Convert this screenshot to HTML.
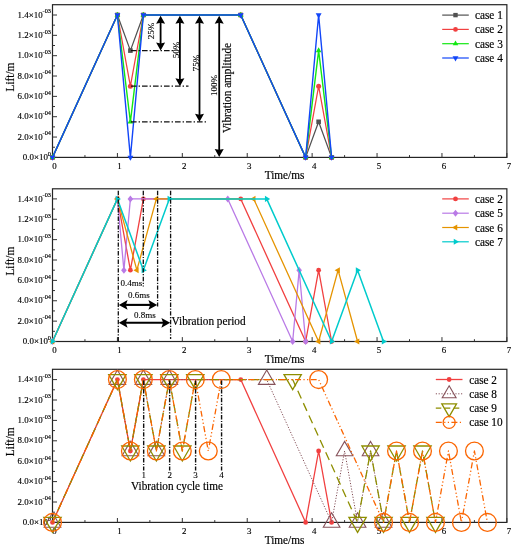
<!DOCTYPE html>
<html><head><meta charset="utf-8"><title>Lift curves</title>
<style>
html,body{margin:0;padding:0;background:#fff}
svg{display:block}
text{font-family:"Liberation Serif",serif;fill:#000;stroke:#000;stroke-width:0.1px}
.tk{font-size:8.9px;stroke-width:0.15px}
.sup{font-size:6.3px}
.ax{font-size:11.8px;stroke-width:0.18px}
.lg{font-size:11.8px;stroke-width:0.18px}
.an{font-size:9px}
</style></head><body>
<svg width="517" height="550" viewBox="0 0 517 550">
<rect width="517" height="550" fill="#fff"/>
<rect x="52.5" y="4.7" width="454.37" height="152.7" fill="none" stroke="#242424" stroke-width="1.2"/>
<path d="M52.5 157.4h4.5M52.5 147.23h2.5M52.5 137.06h4.5M52.5 126.89h2.5M52.5 116.71h4.5M52.5 106.54h2.5M52.5 96.37h4.5M52.5 86.2h2.5M52.5 76.03h4.5M52.5 65.86h2.5M52.5 55.69h4.5M52.5 45.51h2.5M52.5 35.34h4.5M52.5 25.17h2.5M52.5 15h4.5M52.5 157.4v-4.4M84.95 157.4v-2.3M117.41 157.4v-4.4M149.87 157.4v-2.3M182.32 157.4v-4.4M214.77 157.4v-2.3M247.23 157.4v-4.4M279.69 157.4v-2.3M312.14 157.4v-4.4M344.59 157.4v-2.3M377.05 157.4v-4.4M409.5 157.4v-2.3M441.96 157.4v-4.4M474.41 157.4v-2.3M506.87 157.4v-4.4" stroke="#333" stroke-width="1" fill="none"/>
<text x="51" y="160" text-anchor="end" class="tk">0.0×10<tspan class="sup" dy="-4.3">0</tspan></text>
<text x="51" y="139.66" text-anchor="end" class="tk">2.0×10<tspan class="sup" dy="-4.3">-04</tspan></text>
<text x="51" y="119.31" text-anchor="end" class="tk">4.0×10<tspan class="sup" dy="-4.3">-04</tspan></text>
<text x="51" y="98.97" text-anchor="end" class="tk">6.0×10<tspan class="sup" dy="-4.3">-04</tspan></text>
<text x="51" y="78.63" text-anchor="end" class="tk">8.0×10<tspan class="sup" dy="-4.3">-04</tspan></text>
<text x="51" y="58.29" text-anchor="end" class="tk">1.0×10<tspan class="sup" dy="-4.3">-03</tspan></text>
<text x="51" y="37.94" text-anchor="end" class="tk">1.2×10<tspan class="sup" dy="-4.3">-03</tspan></text>
<text x="51" y="17.6" text-anchor="end" class="tk">1.4×10<tspan class="sup" dy="-4.3">-03</tspan></text>
<text x="54.5" y="169.1" text-anchor="middle" class="tk">0</text>
<text x="119.41" y="169.1" text-anchor="middle" class="tk">1</text>
<text x="184.32" y="169.1" text-anchor="middle" class="tk">2</text>
<text x="249.23" y="169.1" text-anchor="middle" class="tk">3</text>
<text x="314.14" y="169.1" text-anchor="middle" class="tk">4</text>
<text x="379.05" y="169.1" text-anchor="middle" class="tk">5</text>
<text x="443.96" y="169.1" text-anchor="middle" class="tk">6</text>
<text x="508.87" y="169.1" text-anchor="middle" class="tk">7</text>
<text transform="translate(14.3 77.05) rotate(-90) scale(0.955 1)" text-anchor="middle" class="ax">Lift/m</text>
<text transform="translate(284.5 178.8) scale(0.955 1)" text-anchor="middle" class="ax">Time/ms</text>
<polyline points="52.5,157.4 117.41,15 130.39,50.6 143.37,15 240.74,15 305.65,157.4 318.63,121.8 331.61,157.4" fill="none" stroke="#515151" stroke-width="1.25" stroke-linejoin="round"/>
<rect x="50.2" y="155.1" width="4.6" height="4.6" fill="#515151"/>
<rect x="115.11" y="12.7" width="4.6" height="4.6" fill="#515151"/>
<rect x="128.09" y="48.3" width="4.6" height="4.6" fill="#515151"/>
<rect x="141.07" y="12.7" width="4.6" height="4.6" fill="#515151"/>
<rect x="238.44" y="12.7" width="4.6" height="4.6" fill="#515151"/>
<rect x="303.35" y="155.1" width="4.6" height="4.6" fill="#515151"/>
<rect x="316.33" y="119.5" width="4.6" height="4.6" fill="#515151"/>
<rect x="329.31" y="155.1" width="4.6" height="4.6" fill="#515151"/>
<polyline points="52.5,157.4 117.41,15 130.39,86.2 143.37,15 240.74,15 305.65,157.4 318.63,86.2 331.61,157.4" fill="none" stroke="#F14040" stroke-width="1.25" stroke-linejoin="round"/>
<circle cx="52.5" cy="157.4" r="2.5" fill="#F14040"/>
<circle cx="117.41" cy="15" r="2.5" fill="#F14040"/>
<circle cx="130.39" cy="86.2" r="2.5" fill="#F14040"/>
<circle cx="143.37" cy="15" r="2.5" fill="#F14040"/>
<circle cx="240.74" cy="15" r="2.5" fill="#F14040"/>
<circle cx="305.65" cy="157.4" r="2.5" fill="#F14040"/>
<circle cx="318.63" cy="86.2" r="2.5" fill="#F14040"/>
<circle cx="331.61" cy="157.4" r="2.5" fill="#F14040"/>
<polyline points="52.5,157.4 117.41,15 130.39,121.8 143.37,15 240.74,15 305.65,157.4 318.63,50.6 331.61,157.4" fill="none" stroke="#12E812" stroke-width="1.4" stroke-linejoin="round"/>
<polygon points="52.5,154.1 55.36,159.05 49.64,159.05" fill="#12E812"/>
<polygon points="117.41,11.7 120.27,16.65 114.55,16.65" fill="#12E812"/>
<polygon points="130.39,118.5 133.25,123.45 127.53,123.45" fill="#12E812"/>
<polygon points="143.37,11.7 146.23,16.65 140.52,16.65" fill="#12E812"/>
<polygon points="240.74,11.7 243.6,16.65 237.88,16.65" fill="#12E812"/>
<polygon points="305.65,154.1 308.51,159.05 302.79,159.05" fill="#12E812"/>
<polygon points="318.63,47.3 321.49,52.25 315.77,52.25" fill="#12E812"/>
<polygon points="331.61,154.1 334.47,159.05 328.76,159.05" fill="#12E812"/>
<polyline points="52.5,157.4 117.41,15 130.39,157.4 143.37,15 240.74,15 305.65,157.4 318.63,15 331.61,157.4" fill="none" stroke="#1246F8" stroke-width="1.4" stroke-linejoin="round"/>
<polygon points="52.5,160.8 49.56,155.7 55.44,155.7" fill="#1246F8"/>
<polygon points="117.41,18.4 114.47,13.3 120.35,13.3" fill="#1246F8"/>
<polygon points="130.39,160.8 127.45,155.7 133.34,155.7" fill="#1246F8"/>
<polygon points="143.37,18.4 140.43,13.3 146.32,13.3" fill="#1246F8"/>
<polygon points="240.74,18.4 237.79,13.3 243.68,13.3" fill="#1246F8"/>
<polygon points="305.65,160.8 302.7,155.7 308.59,155.7" fill="#1246F8"/>
<polygon points="318.63,18.4 315.69,13.3 321.58,13.3" fill="#1246F8"/>
<polygon points="331.61,160.8 328.67,155.7 334.56,155.7" fill="#1246F8"/>
<line x1="442.2" y1="15.1" x2="468.8" y2="15.1" stroke="#515151" stroke-width="1.2"/>
<rect x="453.3" y="12.9" width="4.4" height="4.4" fill="#515151"/>
<text transform="translate(475 19.1) scale(0.955 1)" class="lg">case 1</text>
<line x1="442.2" y1="29.4" x2="468.8" y2="29.4" stroke="#F14040" stroke-width="1.2"/>
<circle cx="455.5" cy="29.4" r="2.4" fill="#F14040"/>
<text transform="translate(475 33.4) scale(0.955 1)" class="lg">case 2</text>
<line x1="442.2" y1="43.7" x2="468.8" y2="43.7" stroke="#12E812" stroke-width="1.2"/>
<polygon points="455.5,40.5 458.27,45.3 452.73,45.3" fill="#12E812"/>
<text transform="translate(475 47.7) scale(0.955 1)" class="lg">case 3</text>
<line x1="442.2" y1="58" x2="468.8" y2="58" stroke="#1246F8" stroke-width="1.2"/>
<polygon points="455.5,61.4 452.56,56.3 458.44,56.3" fill="#1246F8"/>
<text transform="translate(475 62) scale(0.955 1)" class="lg">case 4</text>
<line x1="131" y1="50.6" x2="173.5" y2="50.6" stroke="#111" stroke-width="1.3" stroke-dasharray="5.6 2 1.4 2"/>
<line x1="131" y1="86.2" x2="188.5" y2="86.2" stroke="#111" stroke-width="1.3" stroke-dasharray="5.6 2 1.4 2"/>
<line x1="131" y1="121.8" x2="208" y2="121.8" stroke="#111" stroke-width="1.3" stroke-dasharray="5.6 2 1.4 2"/>
<line x1="160.6" y1="20.6" x2="160.6" y2="45.8" stroke="#000" stroke-width="1.8"/><polygon points="160.6,15.8 165.1,23.8 160.6,22.84 156.1,23.8" fill="#000"/><polygon points="160.6,50.6 165.1,42.6 160.6,43.56 156.1,42.6" fill="#000"/>
<line x1="179.9" y1="20.6" x2="179.9" y2="81.4" stroke="#000" stroke-width="1.8"/><polygon points="179.9,15.8 184.4,23.8 179.9,22.84 175.4,23.8" fill="#000"/><polygon points="179.9,86.2 184.4,78.2 179.9,79.16 175.4,78.2" fill="#000"/>
<line x1="199.5" y1="20.6" x2="199.5" y2="117" stroke="#000" stroke-width="1.8"/><polygon points="199.5,15.8 204,23.8 199.5,22.84 195,23.8" fill="#000"/><polygon points="199.5,121.8 204,113.8 199.5,114.76 195,113.8" fill="#000"/>
<line x1="219.2" y1="20.6" x2="219.2" y2="152.1" stroke="#000" stroke-width="1.8"/><polygon points="219.2,15.8 223.7,23.8 219.2,22.84 214.7,23.8" fill="#000"/><polygon points="219.2,156.9 223.7,148.9 219.2,149.86 214.7,148.9" fill="#000"/>
<text transform="translate(154 31) rotate(-90)" text-anchor="middle" class="an">25%</text>
<text transform="translate(179 50) rotate(-90)" text-anchor="middle" class="an">50%</text>
<text transform="translate(198.5 63) rotate(-90)" text-anchor="middle" class="an">75%</text>
<text transform="translate(217.2 85.5) rotate(-90)" text-anchor="middle" class="an">100%</text>
<text transform="translate(231 88) rotate(-90) scale(0.955 1)" text-anchor="middle" class="ax">Vibration amplitude</text>
<rect x="52.5" y="188.8" width="454.37" height="152.7" fill="none" stroke="#242424" stroke-width="1.2"/>
<path d="M52.5 341.5h4.5M52.5 331.31h2.5M52.5 321.13h4.5M52.5 310.94h2.5M52.5 300.76h4.5M52.5 290.57h2.5M52.5 280.39h4.5M52.5 270.2h2.5M52.5 260.01h4.5M52.5 249.83h2.5M52.5 239.64h4.5M52.5 229.46h2.5M52.5 219.27h4.5M52.5 209.09h2.5M52.5 198.9h4.5M52.5 341.5v-4.4M84.95 341.5v-2.3M117.41 341.5v-4.4M149.87 341.5v-2.3M182.32 341.5v-4.4M214.77 341.5v-2.3M247.23 341.5v-4.4M279.69 341.5v-2.3M312.14 341.5v-4.4M344.59 341.5v-2.3M377.05 341.5v-4.4M409.5 341.5v-2.3M441.96 341.5v-4.4M474.41 341.5v-2.3M506.87 341.5v-4.4" stroke="#333" stroke-width="1" fill="none"/>
<text x="51" y="344.1" text-anchor="end" class="tk">0.0×10<tspan class="sup" dy="-4.3">0</tspan></text>
<text x="51" y="323.73" text-anchor="end" class="tk">2.0×10<tspan class="sup" dy="-4.3">-04</tspan></text>
<text x="51" y="303.36" text-anchor="end" class="tk">4.0×10<tspan class="sup" dy="-4.3">-04</tspan></text>
<text x="51" y="282.99" text-anchor="end" class="tk">6.0×10<tspan class="sup" dy="-4.3">-04</tspan></text>
<text x="51" y="262.61" text-anchor="end" class="tk">8.0×10<tspan class="sup" dy="-4.3">-04</tspan></text>
<text x="51" y="242.24" text-anchor="end" class="tk">1.0×10<tspan class="sup" dy="-4.3">-03</tspan></text>
<text x="51" y="221.87" text-anchor="end" class="tk">1.2×10<tspan class="sup" dy="-4.3">-03</tspan></text>
<text x="51" y="201.5" text-anchor="end" class="tk">1.4×10<tspan class="sup" dy="-4.3">-03</tspan></text>
<text x="54.5" y="353.2" text-anchor="middle" class="tk">0</text>
<text x="119.41" y="353.2" text-anchor="middle" class="tk">1</text>
<text x="184.32" y="353.2" text-anchor="middle" class="tk">2</text>
<text x="249.23" y="353.2" text-anchor="middle" class="tk">3</text>
<text x="314.14" y="353.2" text-anchor="middle" class="tk">4</text>
<text x="379.05" y="353.2" text-anchor="middle" class="tk">5</text>
<text x="443.96" y="353.2" text-anchor="middle" class="tk">6</text>
<text x="508.87" y="353.2" text-anchor="middle" class="tk">7</text>
<text transform="translate(14.3 261.15) rotate(-90) scale(0.955 1)" text-anchor="middle" class="ax">Lift/m</text>
<text transform="translate(284.5 362.9) scale(0.955 1)" text-anchor="middle" class="ax">Time/ms</text>
<polyline points="52.5,341.5 117.41,198.9 130.39,270.2 143.37,198.9 240.74,198.9 305.65,341.5 318.63,270.2 331.61,341.5" fill="none" stroke="#F14040" stroke-width="1.3" stroke-linejoin="round"/>
<circle cx="52.5" cy="341.5" r="2.4" fill="#F14040"/>
<circle cx="117.41" cy="198.9" r="2.4" fill="#F14040"/>
<circle cx="130.39" cy="270.2" r="2.4" fill="#F14040"/>
<circle cx="143.37" cy="198.9" r="2.4" fill="#F14040"/>
<circle cx="240.74" cy="198.9" r="2.4" fill="#F14040"/>
<circle cx="305.65" cy="341.5" r="2.4" fill="#F14040"/>
<circle cx="318.63" cy="270.2" r="2.4" fill="#F14040"/>
<circle cx="331.61" cy="341.5" r="2.4" fill="#F14040"/>
<polyline points="52.5,341.5 117.41,198.9 123.9,270.2 130.39,198.9 227.76,198.9 292.67,341.5 299.16,270.2 305.65,341.5" fill="none" stroke="#B97AE6" stroke-width="1.3" stroke-linejoin="round"/>
<polygon points="52.5,338 55.3,341.5 52.5,345 49.7,341.5" fill="#B97AE6"/>
<polygon points="117.41,195.4 120.21,198.9 117.41,202.4 114.61,198.9" fill="#B97AE6"/>
<polygon points="123.9,266.7 126.7,270.2 123.9,273.7 121.1,270.2" fill="#B97AE6"/>
<polygon points="130.39,195.4 133.19,198.9 130.39,202.4 127.59,198.9" fill="#B97AE6"/>
<polygon points="227.76,195.4 230.56,198.9 227.76,202.4 224.96,198.9" fill="#B97AE6"/>
<polygon points="292.67,338 295.47,341.5 292.67,345 289.87,341.5" fill="#B97AE6"/>
<polygon points="299.16,266.7 301.96,270.2 299.16,273.7 296.36,270.2" fill="#B97AE6"/>
<polygon points="305.65,338 308.45,341.5 305.65,345 302.85,341.5" fill="#B97AE6"/>
<polyline points="52.5,341.5 117.41,198.9 136.88,270.2 156.36,198.9 253.72,198.9 318.63,341.5 338.1,270.2 357.58,341.5" fill="none" stroke="#E59400" stroke-width="1.3" stroke-linejoin="round"/>
<polygon points="49,341.5 54.25,338.47 54.25,344.53" fill="#E59400"/>
<polygon points="113.91,198.9 119.16,195.87 119.16,201.93" fill="#E59400"/>
<polygon points="133.38,270.2 138.63,267.17 138.63,273.23" fill="#E59400"/>
<polygon points="152.86,198.9 158.11,195.87 158.11,201.93" fill="#E59400"/>
<polygon points="250.22,198.9 255.47,195.87 255.47,201.93" fill="#E59400"/>
<polygon points="315.13,341.5 320.38,338.47 320.38,344.53" fill="#E59400"/>
<polygon points="334.6,270.2 339.85,267.17 339.85,273.23" fill="#E59400"/>
<polygon points="354.08,341.5 359.33,338.47 359.33,344.53" fill="#E59400"/>
<polyline points="52.5,341.5 117.41,198.9 143.37,270.2 169.34,198.9 266.7,198.9 331.61,341.5 357.58,270.2 383.54,341.5" fill="none" stroke="#00CBCC" stroke-width="1.5" stroke-linejoin="round"/>
<polygon points="56,341.5 50.75,344.53 50.75,338.47" fill="#00CBCC"/>
<polygon points="120.91,198.9 115.66,201.93 115.66,195.87" fill="#00CBCC"/>
<polygon points="146.87,270.2 141.62,273.23 141.62,267.17" fill="#00CBCC"/>
<polygon points="172.84,198.9 167.59,201.93 167.59,195.87" fill="#00CBCC"/>
<polygon points="270.2,198.9 264.95,201.93 264.95,195.87" fill="#00CBCC"/>
<polygon points="335.11,341.5 329.86,344.53 329.86,338.47" fill="#00CBCC"/>
<polygon points="361.08,270.2 355.83,273.23 355.83,267.17" fill="#00CBCC"/>
<polygon points="387.04,341.5 381.79,344.53 381.79,338.47" fill="#00CBCC"/>
<line x1="442.2" y1="198.9" x2="468.8" y2="198.9" stroke="#F14040" stroke-width="1.2"/>
<circle cx="455.5" cy="198.9" r="2.4" fill="#F14040"/>
<text transform="translate(475 202.9) scale(0.955 1)" class="lg">case 2</text>
<line x1="442.2" y1="213.2" x2="468.8" y2="213.2" stroke="#B97AE6" stroke-width="1.2"/>
<polygon points="455.5,209.7 458.3,213.2 455.5,216.7 452.7,213.2" fill="#B97AE6"/>
<text transform="translate(475 217.2) scale(0.955 1)" class="lg">case 5</text>
<line x1="442.2" y1="227.5" x2="468.8" y2="227.5" stroke="#E59400" stroke-width="1.2"/>
<polygon points="452,227.5 457.25,224.47 457.25,230.53" fill="#E59400"/>
<text transform="translate(475 231.5) scale(0.955 1)" class="lg">case 6</text>
<line x1="442.2" y1="241.8" x2="468.8" y2="241.8" stroke="#00CBCC" stroke-width="1.2"/>
<polygon points="459,241.8 453.75,244.83 453.75,238.77" fill="#00CBCC"/>
<text transform="translate(475 245.8) scale(0.955 1)" class="lg">case 7</text>
<line x1="118.3" y1="190.8" x2="118.3" y2="341.5" stroke="#111" stroke-width="1.3" stroke-dasharray="4.4 1.5 1.2 1.5"/>
<line x1="143.3" y1="190.8" x2="143.3" y2="286.5" stroke="#111" stroke-width="1.3" stroke-dasharray="4.4 1.5 1.2 1.5"/>
<line x1="157.6" y1="190.8" x2="157.6" y2="306.5" stroke="#111" stroke-width="1.3" stroke-dasharray="4.4 1.5 1.2 1.5"/>
<line x1="170.6" y1="190.8" x2="170.6" y2="339" stroke="#111" stroke-width="1.3" stroke-dasharray="4.4 1.5 1.2 1.5"/>
<line x1="124.08" y1="304.9" x2="151.92" y2="304.9" stroke="#000" stroke-width="2.1"/><polygon points="118.8,304.9 127.6,300 125.84,304.9 127.6,309.8" fill="#000"/><polygon points="157.2,304.9 148.4,300 150.16,304.9 148.4,309.8" fill="#000"/>
<line x1="124.08" y1="322.8" x2="164.92" y2="322.8" stroke="#000" stroke-width="2.1"/><polygon points="118.8,322.8 127.6,317.9 125.84,322.8 127.6,327.7" fill="#000"/><polygon points="170.2,322.8 161.4,317.9 163.16,322.8 161.4,327.7" fill="#000"/>
<text x="131.4" y="286.3" text-anchor="middle" class="an">0.4ms</text>
<text x="139" y="298" text-anchor="middle" class="an">0.6ms</text>
<text x="145" y="318.2" text-anchor="middle" class="an">0.8ms</text>
<text transform="translate(171.6 324.5) scale(0.955 1)" class="ax">Vibration period</text>
<rect x="52.5" y="369.3" width="454.37" height="153.1" fill="none" stroke="#242424" stroke-width="1.2"/>
<path d="M52.5 522.4h4.5M52.5 512.2h2.5M52.5 502h4.5M52.5 491.8h2.5M52.5 481.6h4.5M52.5 471.4h2.5M52.5 461.2h4.5M52.5 451h2.5M52.5 440.8h4.5M52.5 430.6h2.5M52.5 420.4h4.5M52.5 410.2h2.5M52.5 400h4.5M52.5 389.8h2.5M52.5 379.6h4.5M52.5 522.4v-4.4M84.95 522.4v-2.3M117.41 522.4v-4.4M149.87 522.4v-2.3M182.32 522.4v-4.4M214.77 522.4v-2.3M247.23 522.4v-4.4M279.69 522.4v-2.3M312.14 522.4v-4.4M344.59 522.4v-2.3M377.05 522.4v-4.4M409.5 522.4v-2.3M441.96 522.4v-4.4M474.41 522.4v-2.3M506.87 522.4v-4.4" stroke="#333" stroke-width="1" fill="none"/>
<text x="51" y="525" text-anchor="end" class="tk">0.0×10<tspan class="sup" dy="-4.3">0</tspan></text>
<text x="51" y="504.6" text-anchor="end" class="tk">2.0×10<tspan class="sup" dy="-4.3">-04</tspan></text>
<text x="51" y="484.2" text-anchor="end" class="tk">4.0×10<tspan class="sup" dy="-4.3">-04</tspan></text>
<text x="51" y="463.8" text-anchor="end" class="tk">6.0×10<tspan class="sup" dy="-4.3">-04</tspan></text>
<text x="51" y="443.4" text-anchor="end" class="tk">8.0×10<tspan class="sup" dy="-4.3">-04</tspan></text>
<text x="51" y="423" text-anchor="end" class="tk">1.0×10<tspan class="sup" dy="-4.3">-03</tspan></text>
<text x="51" y="402.6" text-anchor="end" class="tk">1.2×10<tspan class="sup" dy="-4.3">-03</tspan></text>
<text x="51" y="382.2" text-anchor="end" class="tk">1.4×10<tspan class="sup" dy="-4.3">-03</tspan></text>
<text x="54.5" y="534.1" text-anchor="middle" class="tk">0</text>
<text x="119.41" y="534.1" text-anchor="middle" class="tk">1</text>
<text x="184.32" y="534.1" text-anchor="middle" class="tk">2</text>
<text x="249.23" y="534.1" text-anchor="middle" class="tk">3</text>
<text x="314.14" y="534.1" text-anchor="middle" class="tk">4</text>
<text x="379.05" y="534.1" text-anchor="middle" class="tk">5</text>
<text x="443.96" y="534.1" text-anchor="middle" class="tk">6</text>
<text x="508.87" y="534.1" text-anchor="middle" class="tk">7</text>
<text transform="translate(14.3 441.85) rotate(-90) scale(0.955 1)" text-anchor="middle" class="ax">Lift/m</text>
<text transform="translate(284.5 543.8) scale(0.955 1)" text-anchor="middle" class="ax">Time/ms</text>
<polyline points="52.5,522.4 117.41,379.6 130.39,451 143.37,379.6 240.74,379.6 305.65,522.4 318.63,451 331.61,522.4" fill="none" stroke="#F14040" stroke-width="1.3" stroke-linejoin="round"/>
<circle cx="52.5" cy="522.4" r="2.4" fill="#F14040"/>
<circle cx="117.41" cy="379.6" r="2.4" fill="#F14040"/>
<circle cx="130.39" cy="451" r="2.4" fill="#F14040"/>
<circle cx="143.37" cy="379.6" r="2.4" fill="#F14040"/>
<circle cx="240.74" cy="379.6" r="2.4" fill="#F14040"/>
<circle cx="305.65" cy="522.4" r="2.4" fill="#F14040"/>
<circle cx="318.63" cy="451" r="2.4" fill="#F14040"/>
<circle cx="331.61" cy="522.4" r="2.4" fill="#F14040"/>
<polyline points="52.5,522.4 117.41,379.6 130.39,451 143.37,379.6 156.36,451 169.34,379.6 266.7,379.6 331.61,522.4 344.59,451 357.58,522.4 370.56,451 383.54,522.4" fill="none" stroke="#86525A" stroke-width="1.0" stroke-linejoin="round" stroke-dasharray="1.2 1.6"/>
<polygon points="52.5,512.8 60.81,527.2 44.19,527.2" fill="none" stroke="#86525A" stroke-width="1.1" stroke-linejoin="miter"/>
<polygon points="117.41,370 125.72,384.4 109.1,384.4" fill="none" stroke="#86525A" stroke-width="1.1" stroke-linejoin="miter"/>
<polygon points="130.39,441.4 138.71,455.8 122.08,455.8" fill="none" stroke="#86525A" stroke-width="1.1" stroke-linejoin="miter"/>
<polygon points="143.37,370 151.69,384.4 135.06,384.4" fill="none" stroke="#86525A" stroke-width="1.1" stroke-linejoin="miter"/>
<polygon points="156.36,441.4 164.67,455.8 148.04,455.8" fill="none" stroke="#86525A" stroke-width="1.1" stroke-linejoin="miter"/>
<polygon points="169.34,370 177.65,384.4 161.02,384.4" fill="none" stroke="#86525A" stroke-width="1.1" stroke-linejoin="miter"/>
<polygon points="266.7,370 275.02,384.4 258.39,384.4" fill="none" stroke="#86525A" stroke-width="1.1" stroke-linejoin="miter"/>
<polygon points="331.61,512.8 339.93,527.2 323.3,527.2" fill="none" stroke="#86525A" stroke-width="1.1" stroke-linejoin="miter"/>
<polygon points="344.59,441.4 352.91,455.8 336.28,455.8" fill="none" stroke="#86525A" stroke-width="1.1" stroke-linejoin="miter"/>
<polygon points="357.58,512.8 365.89,527.2 349.26,527.2" fill="none" stroke="#86525A" stroke-width="1.1" stroke-linejoin="miter"/>
<polygon points="370.56,441.4 378.87,455.8 362.25,455.8" fill="none" stroke="#86525A" stroke-width="1.1" stroke-linejoin="miter"/>
<polygon points="383.54,512.8 391.85,527.2 375.23,527.2" fill="none" stroke="#86525A" stroke-width="1.1" stroke-linejoin="miter"/>
<polyline points="52.5,522.4 117.41,379.6 130.39,451 143.37,379.6 156.36,451 169.34,379.6 182.32,451 195.3,379.6 292.67,379.6 357.58,522.4 370.56,451 383.54,522.4 396.52,451 409.5,522.4 422.49,451 435.47,522.4" fill="none" stroke="#8E8E00" stroke-width="1.3" stroke-linejoin="round" stroke-dasharray="8.5 5"/>
<polygon points="52.5,532.4 43.84,517.4 61.16,517.4" fill="none" stroke="#8E8E00" stroke-width="1.3" stroke-linejoin="miter"/>
<polygon points="117.41,389.6 108.75,374.6 126.07,374.6" fill="none" stroke="#8E8E00" stroke-width="1.3" stroke-linejoin="miter"/>
<polygon points="130.39,461 121.73,446 139.05,446" fill="none" stroke="#8E8E00" stroke-width="1.3" stroke-linejoin="miter"/>
<polygon points="143.37,389.6 134.71,374.6 152.03,374.6" fill="none" stroke="#8E8E00" stroke-width="1.3" stroke-linejoin="miter"/>
<polygon points="156.36,461 147.7,446 165.02,446" fill="none" stroke="#8E8E00" stroke-width="1.3" stroke-linejoin="miter"/>
<polygon points="169.34,389.6 160.68,374.6 178,374.6" fill="none" stroke="#8E8E00" stroke-width="1.3" stroke-linejoin="miter"/>
<polygon points="182.32,461 173.66,446 190.98,446" fill="none" stroke="#8E8E00" stroke-width="1.3" stroke-linejoin="miter"/>
<polygon points="195.3,389.6 186.64,374.6 203.96,374.6" fill="none" stroke="#8E8E00" stroke-width="1.3" stroke-linejoin="miter"/>
<polygon points="292.67,389.6 284.01,374.6 301.33,374.6" fill="none" stroke="#8E8E00" stroke-width="1.3" stroke-linejoin="miter"/>
<polygon points="357.58,532.4 348.92,517.4 366.24,517.4" fill="none" stroke="#8E8E00" stroke-width="1.3" stroke-linejoin="miter"/>
<polygon points="370.56,461 361.9,446 379.22,446" fill="none" stroke="#8E8E00" stroke-width="1.3" stroke-linejoin="miter"/>
<polygon points="383.54,532.4 374.88,517.4 392.2,517.4" fill="none" stroke="#8E8E00" stroke-width="1.3" stroke-linejoin="miter"/>
<polygon points="396.52,461 387.86,446 405.18,446" fill="none" stroke="#8E8E00" stroke-width="1.3" stroke-linejoin="miter"/>
<polygon points="409.5,532.4 400.84,517.4 418.17,517.4" fill="none" stroke="#8E8E00" stroke-width="1.3" stroke-linejoin="miter"/>
<polygon points="422.49,461 413.83,446 431.15,446" fill="none" stroke="#8E8E00" stroke-width="1.3" stroke-linejoin="miter"/>
<polygon points="435.47,532.4 426.81,517.4 444.13,517.4" fill="none" stroke="#8E8E00" stroke-width="1.3" stroke-linejoin="miter"/>
<polyline points="52.5,522.4 117.41,379.6 130.39,451 143.37,379.6 156.36,451 169.34,379.6 182.32,451 195.3,379.6 208.28,451 221.27,379.6 318.63,379.6 383.54,522.4 396.52,451 409.5,522.4 422.49,451 435.47,522.4 448.45,451 461.43,522.4 474.42,451 487.4,522.4" fill="none" stroke="#FB6501" stroke-width="1.3" stroke-linejoin="round" stroke-dasharray="6 2.4 1.2 2.4 1.2 2.4"/>
<circle cx="52.5" cy="522.4" r="8.9" fill="none" stroke="#FB6501" stroke-width="1.3"/>
<circle cx="117.41" cy="379.6" r="8.9" fill="none" stroke="#FB6501" stroke-width="1.3"/>
<circle cx="130.39" cy="451" r="8.9" fill="none" stroke="#FB6501" stroke-width="1.3"/>
<circle cx="143.37" cy="379.6" r="8.9" fill="none" stroke="#FB6501" stroke-width="1.3"/>
<circle cx="156.36" cy="451" r="8.9" fill="none" stroke="#FB6501" stroke-width="1.3"/>
<circle cx="169.34" cy="379.6" r="8.9" fill="none" stroke="#FB6501" stroke-width="1.3"/>
<circle cx="182.32" cy="451" r="8.9" fill="none" stroke="#FB6501" stroke-width="1.3"/>
<circle cx="195.3" cy="379.6" r="8.9" fill="none" stroke="#FB6501" stroke-width="1.3"/>
<circle cx="208.28" cy="451" r="8.9" fill="none" stroke="#FB6501" stroke-width="1.3"/>
<circle cx="221.27" cy="379.6" r="8.9" fill="none" stroke="#FB6501" stroke-width="1.3"/>
<circle cx="318.63" cy="379.6" r="8.9" fill="none" stroke="#FB6501" stroke-width="1.3"/>
<circle cx="383.54" cy="522.4" r="8.9" fill="none" stroke="#FB6501" stroke-width="1.3"/>
<circle cx="396.52" cy="451" r="8.9" fill="none" stroke="#FB6501" stroke-width="1.3"/>
<circle cx="409.5" cy="522.4" r="8.9" fill="none" stroke="#FB6501" stroke-width="1.3"/>
<circle cx="422.49" cy="451" r="8.9" fill="none" stroke="#FB6501" stroke-width="1.3"/>
<circle cx="435.47" cy="522.4" r="8.9" fill="none" stroke="#FB6501" stroke-width="1.3"/>
<circle cx="448.45" cy="451" r="8.9" fill="none" stroke="#FB6501" stroke-width="1.3"/>
<circle cx="461.43" cy="522.4" r="8.9" fill="none" stroke="#FB6501" stroke-width="1.3"/>
<circle cx="474.42" cy="451" r="8.9" fill="none" stroke="#FB6501" stroke-width="1.3"/>
<circle cx="487.4" cy="522.4" r="8.9" fill="none" stroke="#FB6501" stroke-width="1.3"/>
<line x1="435.8" y1="379.5" x2="462.5" y2="379.5" stroke="#F14040" stroke-width="1.3"/>
<circle cx="449.15" cy="379.5" r="2.4" fill="#F14040"/>
<text transform="translate(469.2 383.5) scale(0.955 1)" class="lg">case 2</text>
<line x1="435.8" y1="393.8" x2="462.5" y2="393.8" stroke="#86525A" stroke-width="1.0" stroke-dasharray="1.2 1.6"/>
<polygon points="449.15,385.8 456.08,397.8 442.22,397.8" fill="none" stroke="#86525A" stroke-width="1.1" stroke-linejoin="miter"/>
<text transform="translate(469.2 397.8) scale(0.955 1)" class="lg">case 8</text>
<line x1="435.8" y1="408.1" x2="462.5" y2="408.1" stroke="#8E8E00" stroke-width="1.3" stroke-dasharray="5.5 3.5"/>
<polygon points="449.15,416.6 441.79,403.85 456.51,403.85" fill="none" stroke="#8E8E00" stroke-width="1.3" stroke-linejoin="miter"/>
<text transform="translate(469.2 412.1) scale(0.955 1)" class="lg">case 9</text>
<line x1="435.8" y1="422.4" x2="462.5" y2="422.4" stroke="#FB6501" stroke-width="1.3" stroke-dasharray="6 2.4 1.2 2.4 1.2 2.4"/>
<circle cx="449.15" cy="422.4" r="6" fill="none" stroke="#FB6501" stroke-width="1.3"/>
<text transform="translate(469.2 426.4) scale(0.955 1)" class="lg">case 10</text>
<line x1="143.67" y1="380.6" x2="143.67" y2="470.6" stroke="#111" stroke-width="1.4" stroke-dasharray="4.4 1.5 1.2 1.5"/>
<text x="143.67" y="478.2" text-anchor="middle" class="an">1</text>
<line x1="169.64" y1="380.6" x2="169.64" y2="470.6" stroke="#111" stroke-width="1.4" stroke-dasharray="4.4 1.5 1.2 1.5"/>
<text x="169.64" y="478.2" text-anchor="middle" class="an">2</text>
<line x1="195.6" y1="380.6" x2="195.6" y2="470.6" stroke="#111" stroke-width="1.4" stroke-dasharray="4.4 1.5 1.2 1.5"/>
<text x="195.6" y="478.2" text-anchor="middle" class="an">3</text>
<line x1="221.57" y1="380.6" x2="221.57" y2="470.6" stroke="#111" stroke-width="1.4" stroke-dasharray="4.4 1.5 1.2 1.5"/>
<text x="221.57" y="478.2" text-anchor="middle" class="an">4</text>
<text transform="translate(177 489.8) scale(0.955 1)" text-anchor="middle" class="ax">Vibration cycle time</text>
</svg></body></html>
